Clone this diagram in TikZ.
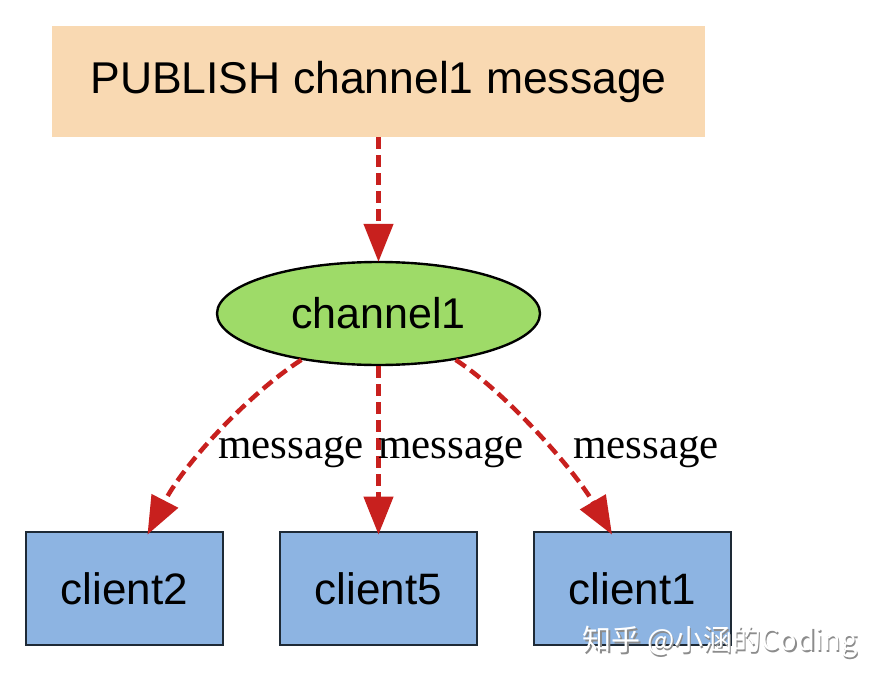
\documentclass[tikz,border=0pt]{standalone}
\usepackage{fontspec}
\setmainfont{Liberation Sans}
\newfontfamily\serifx{Liberation Serif}
\newfontfamily\cjk{Noto Sans CJK SC}
\usetikzlibrary{arrows.meta,calc,shapes.geometric}
\definecolor{peach}{HTML}{F9D9B2}
\definecolor{chgreen}{HTML}{9EDB68}
\definecolor{clblue}{HTML}{8DB4E2}
\definecolor{arrred}{HTML}{C8201E}
\definecolor{edgedark}{HTML}{1E2A36}
\tikzset{
  pubbox/.style={fill=peach, draw=none, minimum width=653pt, minimum height=111pt, inner sep=0pt,
    font=\fontsize{44.5}{50}\selectfont},
  chnode/.style={ellipse, fill=chgreen, draw=black, line width=2.4pt, minimum width=323pt, minimum height=103pt,
    inner sep=0pt, font=\fontsize{43}{50}\selectfont},
  clbox/.style={fill=clblue, draw=edgedark, line width=2.8pt, minimum width=197pt, minimum height=113pt,
    inner sep=0pt, font=\fontsize{44}{50}\selectfont},
  arr/.style={draw=arrred, line width=4.5pt, dash pattern=on 12pt off 6pt,
    -{Triangle[length=38pt,width=29pt,fill=arrred]}},
  msg/.style={font=\serifx\fontsize{43}{50}\selectfont, inner sep=0pt},
}
\begin{document}
\begin{tikzpicture}[x=1pt,y=-1pt]
\useasboundingbox[fill=white] (0,0) rectangle (878,682);
\node[pubbox] (pub) at (378.5,81.5) {PUBLISH channel1 message};
\node[chnode] (ch) at (378.5,313.5) {channel1};
\node[clbox] (c2) at (124.5,588.5) {client2};
\node[clbox] (c5) at (378.5,588.5) {client5};
\node[clbox] (c1) at (632.5,588.5) {client1};
\coordinate (e2) at ($(c2.north)+(23,4)$);
\coordinate (e5) at ($(c5.north)+(0,4)$);
\coordinate (e1) at ($(c1.north)+(-20.5,4)$);
\coordinate (ech) at ($(ch.north)+(0,1)$);
\draw[arr] (pub) -- (ech);
\draw[arr] (ch) -- (e5);
\draw[arr] (ch.211) .. controls (250,393) and (185,462) .. (e2);
\draw[arr] (ch.329) .. controls (505,392) and (573,468) .. (e1);
\node[msg] (m2) at (291,452) {message};
\node[msg] (m5) at (451,452) {message};
\node[msg] (m1) at (646,452) {message};
\node[text=black!45, font=\cjk\fontsize{29}{32}\selectfont, inner sep=0pt] (wms) at (721.5,643.5) {知乎 @小涵的Coding};
\node[text=white, font=\cjk\fontsize{29}{32}\selectfont, inner sep=0pt] (wm) at (720,642) {知乎 @小涵的Coding};
\end{tikzpicture}
\end{document}
